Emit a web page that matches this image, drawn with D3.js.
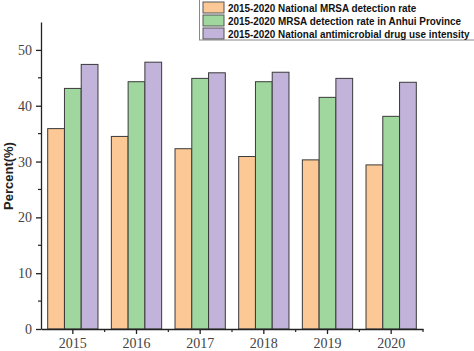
<!DOCTYPE html>
<html lang="en">
<head>
<meta charset="utf-8">
<title>MRSA detection rate bars</title>
<script src="https://cdn.jsdelivr.net/npm/d3@7"></script>
<style>
  body{margin:0;background:#fff;}
  svg{display:block;}
</style>
</head>
<body>
<div id="chart"></div>
<script>
// data
var years = ["2015","2016","2017","2018","2019","2020"]
var seriesNames = [
  "2015-2020 National MRSA detection rate",
  "2015-2020 MRSA detection rate in Anhui Province",
  "2015-2020 National antimicrobial drug use intensity"
]
var nationalMRSA = [35.9, 34.5, 32.3, 30.9, 30.3, 29.4]
var anhuiMRSA    = [43.1, 44.3, 44.9, 44.3, 41.5, 38.1]
var drugUse      = [47.4, 47.8, 45.9, 46.0, 44.9, 44.2]
var yTicks = [0,10,20,30,40,50]

var colors = ["#fcc896","#9fd79f","#c2b3da"]
var series = [nationalMRSA, anhuiMRSA, drugUse]

var W = 474, H = 351
// NB: "top" is taken by window.top, so use other names
var mLeft = 41, mRight = 423, mTop = 22, mBottom = 329

var svg = d3.select("#chart").append("svg")
  .attr("width",W).attr("height",H)

var x = d3.scaleBand().domain(years).range([mLeft,mRight]).paddingInner(0).paddingOuter(0)
var inner = d3.scaleBand().domain(d3.range(3)).range([0, x.bandwidth()*0.79])
var y = d3.scaleLinear().domain([0,55]).range([mBottom,mTop])

// bars
years.forEach(function(yr,i){
  var g = svg.append("g")
    .attr("transform","translate("+(x(yr)+x.bandwidth()*0.105)+",0)")
  g.selectAll("rect")
    .data(series.map(function(s,k){ return {k:k, v:s[i]} }))
    .enter().append("rect")
    .attr("x",function(d){ return inner(d.k) })
    .attr("y",function(d){ return y(d.v) })
    .attr("width",inner.bandwidth())
    .attr("height",function(d){ return y(0)-y(d.v) })
    .attr("fill",function(d){ return colors[d.k] })
    .attr("stroke","#3a3a3a")
    .attr("stroke-width",1)
})

// y axis
var yAxis = svg.append("g").attr("transform","translate("+mLeft+",0)")
  .call(d3.axisLeft(y).tickValues(yTicks).tickSize(5).tickPadding(4).tickSizeOuter(0))
yAxis.select(".domain").attr("stroke","#222").attr("stroke-width",1.3)
yAxis.selectAll(".tick line").attr("stroke","#222").attr("stroke-width",1.3)
yAxis.selectAll("text").attr("font-family","'Liberation Serif', serif").attr("font-size",14).attr("fill","#444")
// minor y ticks
yAxis.selectAll(".minor").data([5,15,25,35,45]).enter().append("line")
  .attr("x1",-3).attr("x2",0)
  .attr("y1",function(d){ return y(d) }).attr("y2",function(d){ return y(d) })
  .attr("stroke","#222").attr("stroke-width",1.2)

// x axis
var xAxis = svg.append("g").attr("transform","translate(0,"+mBottom+")")
  .call(d3.axisBottom(x).tickSize(5).tickPadding(4).tickSizeOuter(0))
xAxis.select(".domain").attr("stroke","#222").attr("stroke-width",1.3)
xAxis.selectAll(".tick line").attr("stroke","#222").attr("stroke-width",1.3)
xAxis.selectAll("text").attr("font-family","'Liberation Serif', serif").attr("font-size",14).attr("fill","#444")
// minor x ticks at band edges
xAxis.selectAll(".minor").data(years.slice(1).concat(["end"])).enter().append("line")
  .attr("x1",function(d){ return d=="end" ? mRight : x(d) })
  .attr("x2",function(d){ return d=="end" ? mRight : x(d) })
  .attr("y1",0).attr("y2",3)
  .attr("stroke","#222").attr("stroke-width",1.2)

// y title
svg.append("text")
  .attr("transform","translate(13,176) rotate(-90)")
  .attr("text-anchor","middle")
  .attr("font-family","'Liberation Sans', Arial, sans-serif")
  .attr("font-weight","bold").attr("font-size",13).attr("fill","#222")
  .text("Percent(%)")

// legend
var lg = svg.append("g")
lg.append("rect").attr("x",199.5).attr("y",-1).attr("width",280).attr("height",41)
  .attr("fill","#fff").attr("stroke","#888").attr("stroke-width",1)
var labels = []
seriesNames.forEach(function(name,k){
  var row = lg.append("g").attr("transform","translate(0,"+(2+k*13)+")")
  row.append("rect").attr("x",203).attr("y",0).attr("width",21).attr("height",11)
    .attr("fill",colors[k]).attr("stroke","#555").attr("stroke-width",1)
  labels.push(row.append("g").attr("transform","translate(228,10)")
    .append("text")
    .attr("font-family","'Liberation Sans', Arial, sans-serif")
    .attr("font-weight","bold").attr("font-size",11.5).attr("fill","#111")
    .text(name))
})
// squeeze the legend text a bit so the longest line ends near x=470
var longest = d3.max(labels, function(t){ return t.node().getComputedTextLength() })
var sx = Math.min(1, 242/longest)
labels.forEach(function(t){ t.attr("transform","scale("+sx+",1)") })
</script>
</body>
</html>
